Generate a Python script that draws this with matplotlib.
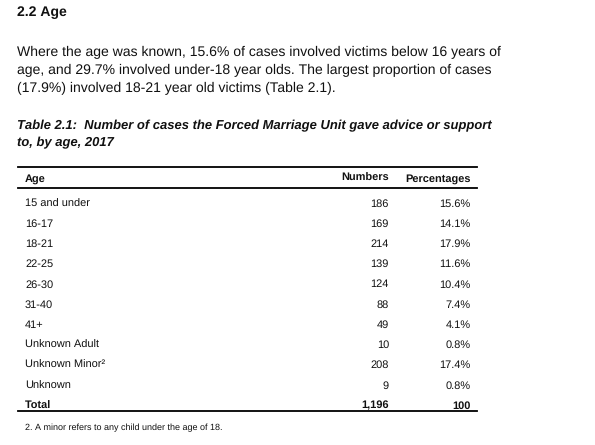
import matplotlib
matplotlib.use("Agg")
import matplotlib.pyplot as plt

plt.rcParams["text.hinting"] = "no_hinting"
plt.rcParams["text.hinting_factor"] = 1

heading = "2.2 Age"
paragraph = [
    "Where the age was known, 15.6% of cases involved victims below 16 years of",
    "age, and 29.7% involved under-18 year olds. The largest proportion of cases",
    "(17.9%) involved 18-21 year old victims (Table 2.1).",
]
title_lines = [
    "Table 2.1:  Number of cases the Forced Marriage Unit gave advice or support",
    "to, by age, 2017",
]
columns = ["Age", "Numbers", "Percentages"]
ages = ["15 and under", "16-17", "18-21", "22-25", "26-30", "31-40", "41+",
        "Unknown Adult", "Unknown Minor²", "Unknown"]
numbers = ["186", "169", "214", "139", "124", "88", "49", "10", "208", "9"]
percentages = ["15.6%", "14.1%", "17.9%", "11.6%", "10.4%", "7.4%", "4.1%",
               "0.8%", "17.4%", "0.8%"]
total = ["Total", "1,196", "100"]
footnote = "2. A minor refers to any child under the age of 18."

FONT = "Liberation Sans"
TXT = "#111111"
fig = plt.figure(figsize=(5.95, 4.45), dpi=100)
ax = fig.add_axes([0, 0, 1, 1])
ax.set_xlim(0, 595)
ax.set_ylim(445, 0)
ax.axis("off")

ax.text(17, 12.5, heading, fontsize=10.2, fontweight="bold", family=FONT,
        va="center", ha="left", color=TXT)
for i, line in enumerate(paragraph):
    ax.text(17, 52.5 + i * 18.2, line, fontsize=10.0, family=FONT,
            va="center", ha="left", color=TXT)
for i, line in enumerate(title_lines):
    ax.text(17, 125.5 + i * 17, line, fontsize=9.2, family=FONT,
            fontweight="bold", fontstyle="italic", va="center", ha="left",
            color=TXT)

x_left, x_right = 18, 477
x_age, x_num, x_pct = 25, 389, 470.5
FS = 7.8
ax.plot([x_left, x_right], [167, 167], color="black", lw=1.3)
ax.plot([x_left, x_right], [188, 188], color="black", lw=1.3)
ax.text(x_age, 178.5, columns[0], fontsize=FS, family=FONT, fontweight="bold",
        va="center", ha="left", color=TXT)
ax.text(x_num, 178.5, columns[1], fontsize=FS, family=FONT, fontweight="bold",
        va="center", ha="right", color=TXT)
ax.text(x_pct, 178.5, columns[2], fontsize=FS, family=FONT, fontweight="bold",
        va="center", ha="right", color=TXT)

y0, dy = 203.8, 20.2
for i, (a, n, p) in enumerate(zip(ages, numbers, percentages)):
    y = y0 + i * dy
    ax.text(x_age, y, a, fontsize=FS, family=FONT, va="center", ha="left",
            color=TXT)
    ax.text(x_num, y, n, fontsize=FS, family=FONT, va="center", ha="right",
            color=TXT)
    ax.text(x_pct, y, p, fontsize=FS, family=FONT, va="center", ha="right",
            color=TXT)

yt = y0 + len(ages) * dy
ax.text(x_age, yt, total[0], fontsize=FS, family=FONT, fontweight="bold",
        va="center", ha="left", color=TXT)
ax.text(x_num, yt, total[1], fontsize=FS, family=FONT, fontweight="bold",
        va="center", ha="right", color=TXT)
ax.text(x_pct, yt, total[2], fontsize=FS, family=FONT, fontweight="bold",
        va="center", ha="right", color=TXT)
ax.plot([x_left, x_right], [410.5, 410.5], color="black", lw=1.3)

ax.text(x_age, 427.5, footnote, fontsize=6.8, family=FONT, va="center",
        ha="left", color=TXT)

fig.savefig("out.png", dpi=100, facecolor="white")
